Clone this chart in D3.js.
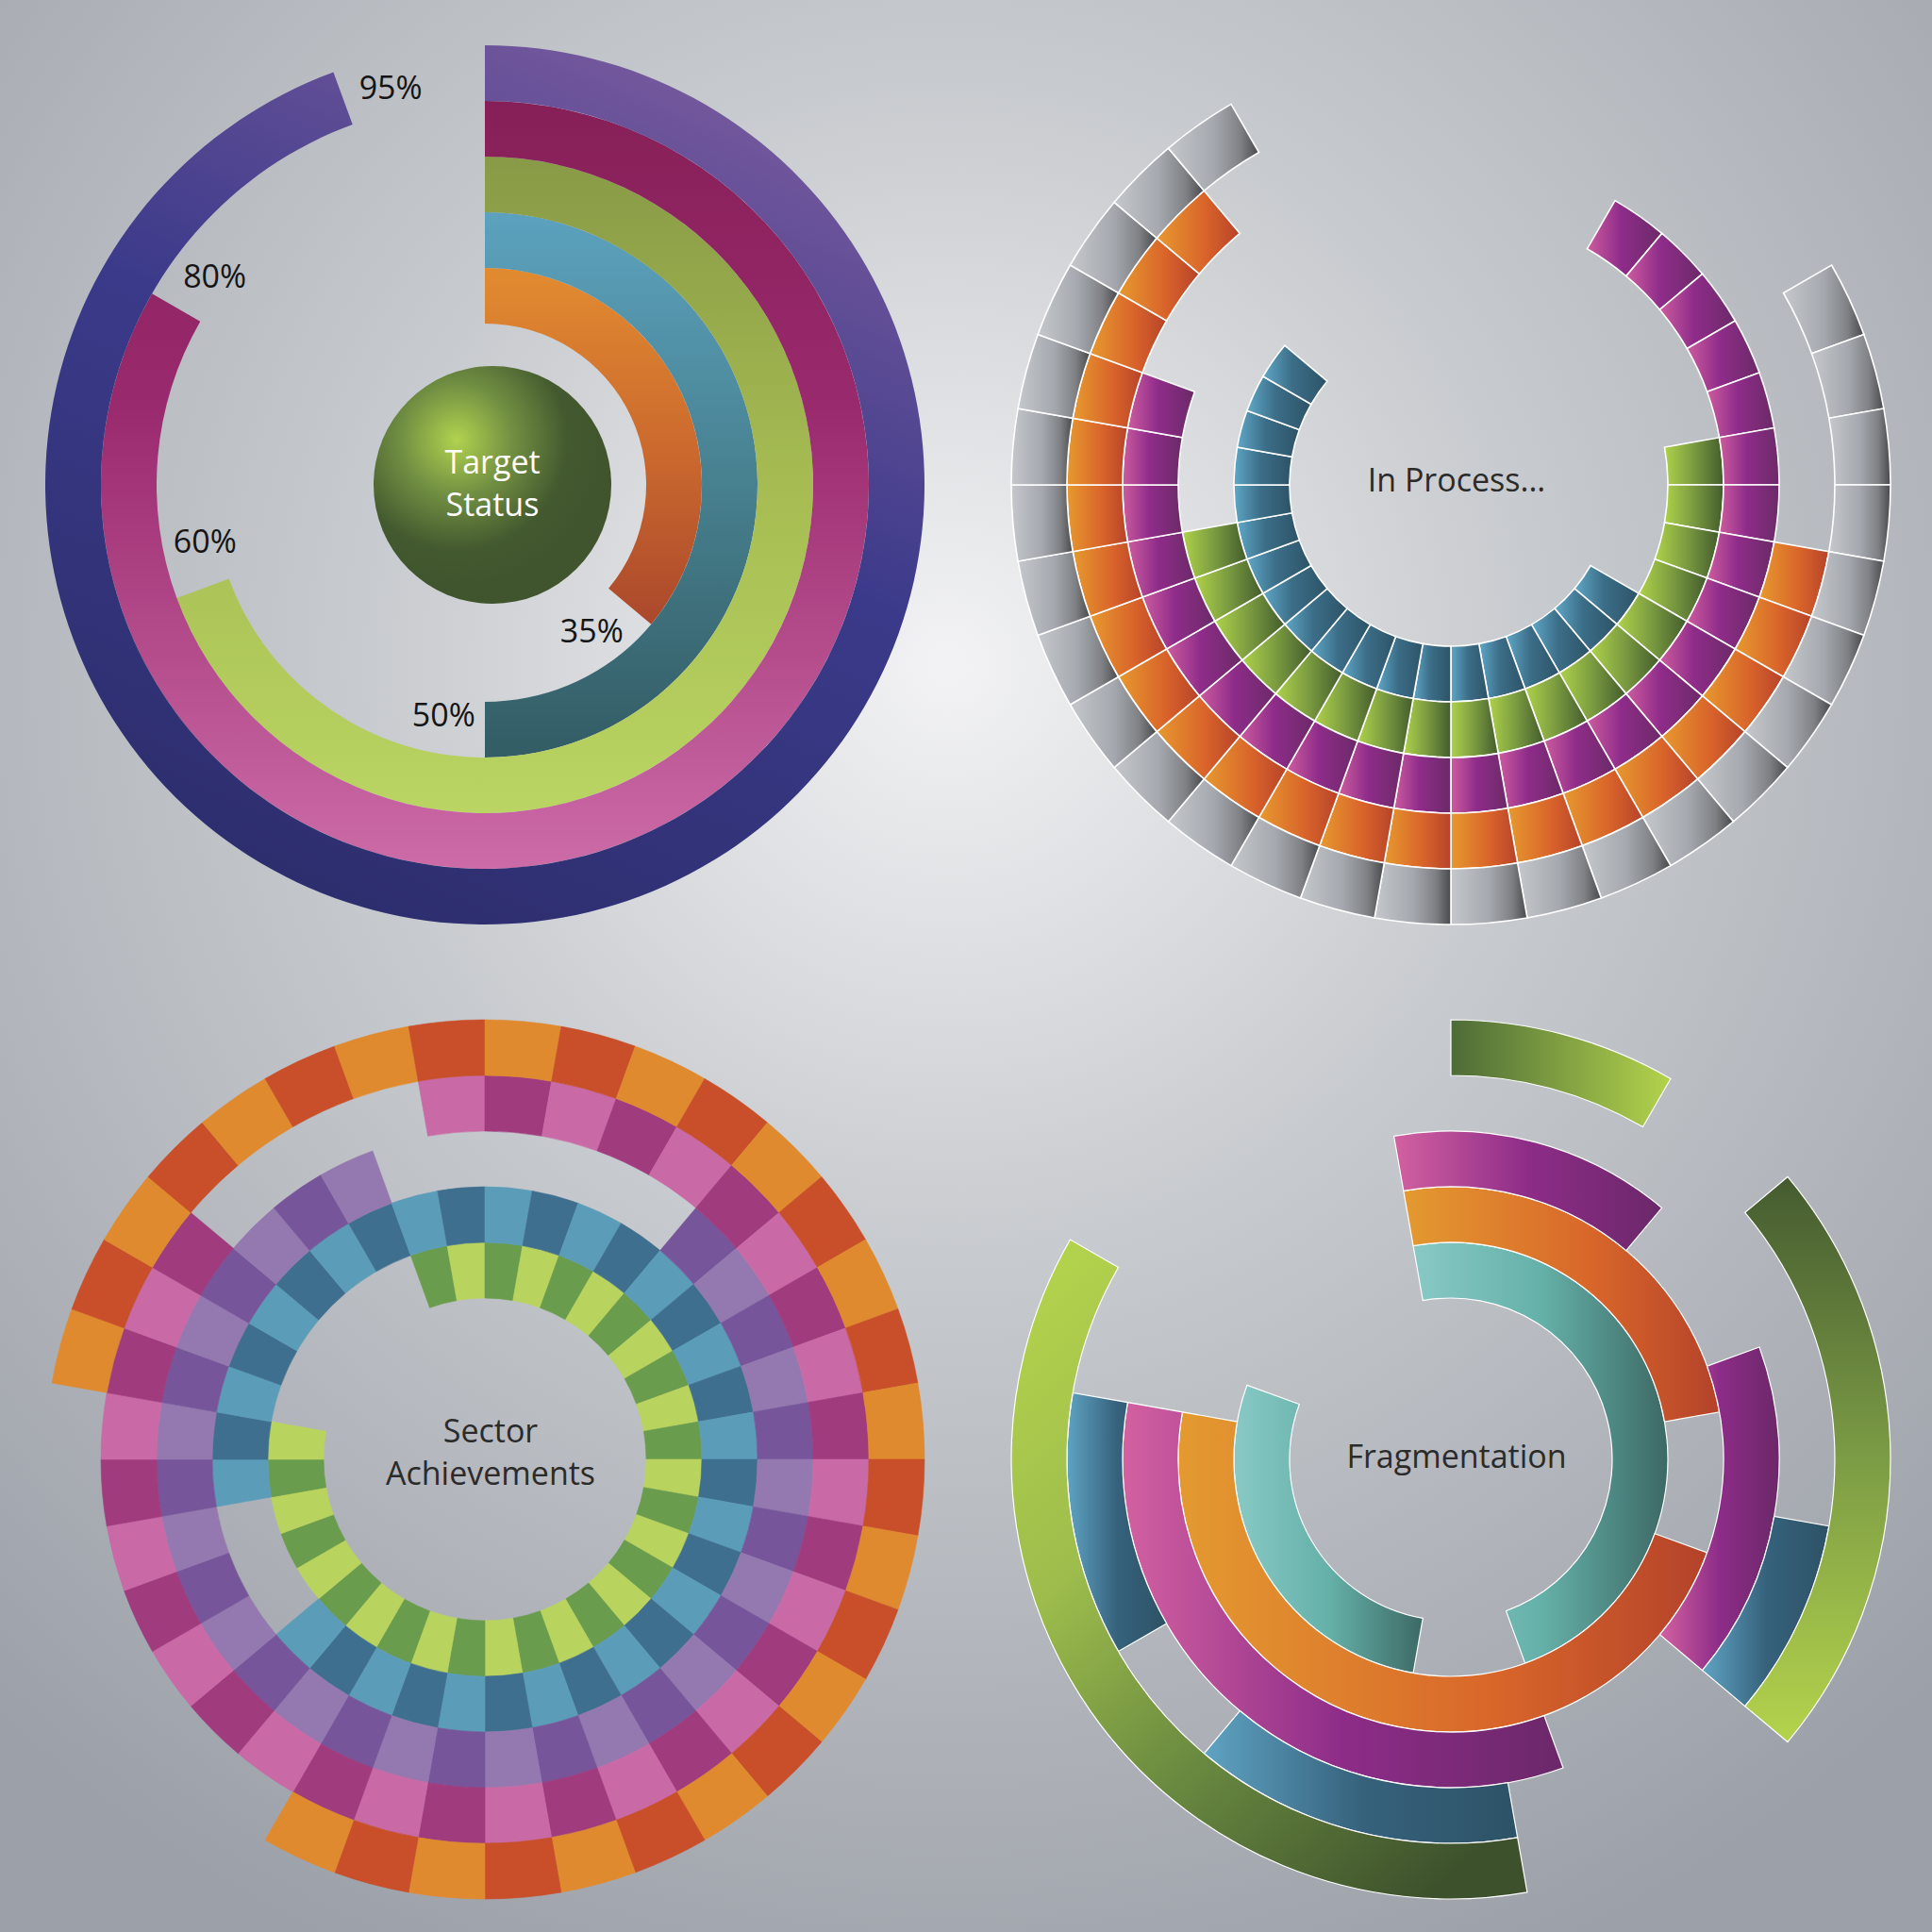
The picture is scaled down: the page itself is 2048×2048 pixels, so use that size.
<!DOCTYPE html>
<html><head><meta charset="utf-8">
<script src="https://cdn.jsdelivr.net/npm/d3@7"></script>
<style>html,body{margin:0;padding:0;background:#c8cbd0;} svg{display:block;}</style>
</head><body>
<script>
// ================= DATA =================
// Chart 1 — Target Status (rings inner → outer)
const targetLabels = ["35%", "50%", "60%", "80%", "95%"];
const targetSweep  = [36.1, 50, 69.4, 83.3, 94.4];   // share of the full circle drawn (%)
const targetKeys   = ["orange", "teal", "green", "magenta", "purple"];

// Chart 2 — In Process... (rings inner → outer, degrees clockwise from 12 o'clock, 10° cells)
const processKeys  = ["blue", "green", "magenta", "orange", "gray"];
const processStart = [120, 80, 30, 100, 60];
const processEnd   = [310, 260, 290, 320, 330];

// Chart 3 — Sector Achievements (rings inner → outer, >360 wraps past 12 o'clock)
const sectorKeys  = ["green", "blue", "purple", "pink", "orange"];
const sectorStart = [340, 260, 40, 350, 280];
const sectorEnd   = [640, 590, 340, 670, 570];

// Chart 4 — Fragmentation (arcs)
const fragRing  = [0, 0, 1, 1, 2, 2, 2, 3, 3, 3, 4, 4, 4];
const fragStart = [350, 190, 350, 110, 350, 70, 160, 100, 170, 240, 0, 50, 170];
const fragEnd   = [520, 290, 440, 280, 400, 130, 280, 130, 220, 280, 30, 130, 300];
const fragKeys  = ["teal", "teal", "orange", "orange", "magenta", "magenta", "magenta",
                   "blue", "blue", "blue", "greenH", "greenV", "greenD"];

const chartTitles = [["Target", "Status"], ["In Process..."], ["Sector", "Achievements"], ["Fragmentation"]];

// ================= STYLE =================
const FONT = "'Open Sans', 'Noto Sans', sans-serif";
const W = 2048, H = 2048;
const centers = [[514, 514], [1538, 514], [514, 1547], [1538, 1547]];

const svg = d3.select("body").append("svg").attr("width", W).attr("height", H);
const defs = svg.append("defs");

function linGrad(id, stops, x1, y1, x2, y2) {
  const g = defs.append("linearGradient").attr("id", id)
    .attr("x1", x1).attr("y1", y1).attr("x2", x2).attr("y2", y2);
  stops.forEach(([o, c]) => g.append("stop").attr("offset", o).attr("stop-color", c));
}
const H_ = [0, 0, 1, 0], V_ = [0, 0, 0, 1];

// background
const bg = defs.append("radialGradient").attr("id", "bg").attr("gradientUnits", "userSpaceOnUse")
  .attr("cx", 1005).attr("cy", 705).attr("r", 1500);
[[0, "#f3f3f5"], [0.12, "#e6e7e9"], [0.42, "#c7cace"], [1, "#9ca0a8"]]
  .forEach(([o, c]) => bg.append("stop").attr("offset", o).attr("stop-color", c));
svg.append("rect").attr("width", W).attr("height", H).attr("fill", "url(#bg)");

// chart 1 gradients
linGrad("c1-orange",  [[0, "#e18b30"], [0.5, "#cc6a2e"], [1, "#ab482c"]], ...V_);
linGrad("c1-teal",    [[0, "#5ca2be"], [0.5, "#47808f"], [1, "#335c64"]], ...V_);
linGrad("c1-green",   [[0, "#889a46"], [0.5, "#a6bc52"], [1, "#bad563"]], ...V_);
linGrad("c1-magenta", [[0, "#861f57"], [0.4, "#9a2a6e"], [1, "#cc6ba7"]], ...V_);
linGrad("c1-purple",  [[0, "#785a9e"], [0.45, "#3b3a8a"], [1, "#2c2d6c"]], 0.72, 0, 0.28, 1);

// chart 2 gradients (horizontal, per cell)
const c2Grad = {
  gray:    [[0, "#c4c7cb"], [0.5, "#a5a9af"], [0.8, "#7e8084"], [1, "#48494b"]],
  orange:  [[0, "#e7992f"], [0.6, "#d8622a"], [1, "#b6432a"]],
  magenta: [[0, "#cd5c9f"], [0.45, "#8f2c8a"], [1, "#6b2a67"]],
  green:   [[0, "#aed24a"], [0.5, "#7a9a40"], [1, "#435c2d"]],
  blue:    [[0, "#5fa7c7"], [0.45, "#3c6e88"], [1, "#2d5367"]]
};
Object.entries(c2Grad).forEach(([k, s]) => linGrad("c2-" + k, s, ...H_));

// chart 3 flat palettes [even cell, odd cell]
const c3Pal = {
  green:  ["#699c4c", "#b9d35f"],
  blue:   ["#5b9db9", "#3f6f8f"],
  purple: ["#77559a", "#9379b0"],
  pink:   ["#a03b7e", "#c96aa6"],
  orange: ["#e08a2f", "#c84f2a"]
};

// chart 4 gradients
linGrad("c4-teal",    [[0, "#89c9c5"], [0.5, "#65b1a9"], [1, "#3d6965"]], ...H_);
linGrad("c4-orange",  [[0, "#e49a30"], [0.6, "#d8662a"], [1, "#b4422a"]], ...H_);
linGrad("c4-magenta", [[0, "#d361a1"], [0.5, "#8d2c88"], [1, "#6b2869"]], ...H_);
linGrad("c4-blue",    [[0, "#5fa3c3"], [0.5, "#36627c"], [1, "#2d5266"]], ...H_);
linGrad("c4-greenH",  [[0, "#4d6b37"], [1, "#b3d34c"]], ...H_);
linGrad("c4-greenV",  [[0, "#455b30"], [0.5, "#7c9c45"], [1, "#b4d34c"]], ...V_);
linGrad("c4-greenD",  [[0, "#b4d34c"], [0.35, "#9dbc4c"], [0.65, "#6a8a40"], [1, "#3d512c"]], 0.1, 0, 0.8, 1);

// sphere
const sph = defs.append("radialGradient").attr("id", "sphere")
  .attr("cx", 0.35).attr("cy", 0.31).attr("r", 0.62).attr("fx", 0.35).attr("fy", 0.31);
[[0, "#b1d24f"], [0.38, "#718f42"], [0.75, "#43592f"], [1, "#40552d"]]
  .forEach(([o, c]) => sph.append("stop").attr("offset", o).attr("stop-color", c));

// ================= SCALES =================
const rScale = d3.scaleLinear().domain([0, 5]).range([171, 466]);      // ring index → radius
const degScale = d3.scaleLinear().domain([0, 360]).range([0, 2 * Math.PI]);
const pctScale = d3.scaleLinear().domain([0, 100]).range([0, 2 * Math.PI]);

const arcGen = d3.arc()
  .innerRadius(d => rScale(d.ring))
  .outerRadius(d => rScale(d.ring + 1))
  .startAngle(d => d.a0)
  .endAngle(d => d.a1);

function cells(ring, start, end) {
  const out = [];
  for (let a = start; a < end; a += 10) {
    out.push({ ring, a0: degScale(a), a1: degScale(Math.min(a + 10, end)), k: Math.round(a / 10) % 36 });
  }
  return out;
}

function title(g, lines, ys, color) {
  lines.forEach((t, i) => g.append("text").attr("x", 6).attr("y", ys[i])
    .attr("text-anchor", "middle").attr("font-family", FONT).attr("font-size", 34)
    .attr("fill", color).text(t));
}

// ================= CHART 1 =================
{
  const g = svg.append("g").attr("transform", `translate(${centers[0]})`);
  const data = targetSweep.map((v, i) => ({ ring: i, a0: 0, a1: pctScale(v), key: targetKeys[i], label: targetLabels[i] }));
  g.selectAll("path.ring").data(data).join("path").attr("class", "ring")
    .attr("d", arcGen).attr("fill", d => `url(#c1-${d.key})`);

  g.selectAll("text.lbl").data(data).join("text").attr("class", "lbl")
    .each(function (d) {
      const rl = (rScale(d.ring) + rScale(d.ring + 1)) / 2 - 12 + (d.ring === 4 ? 10 : 0);
      const a = d.a1 + 48 / rl;
      d3.select(this).attr("x", rl * Math.sin(a) + 4).attr("y", -rl * Math.cos(a) + 13);
    })
    .attr("text-anchor", "middle").attr("font-family", FONT).attr("font-size", 34)
    .attr("fill", "#151515").text(d => d.label);

  g.append("circle").attr("cx", 8).attr("cy", 0).attr("r", 126).attr("fill", "url(#sphere)");
  const tg = g.append("g").attr("transform", "translate(2,0)");
  title(tg, chartTitles[0], [-12, 33], "#ffffff");
}

// ================= CHART 2 =================
{
  const g = svg.append("g").attr("transform", `translate(${centers[1]})`);
  processKeys.forEach((key, i) => {
    g.append("g").selectAll("path").data(cells(i, processStart[i], processEnd[i])).join("path")
      .attr("d", arcGen).attr("fill", `url(#c2-${key})`)
      .attr("stroke", "#ffffff").attr("stroke-width", 1.6).attr("stroke-linejoin", "miter");
  });
  title(g, chartTitles[1], [7], "#2b2b2b");
}

// ================= CHART 3 =================
{
  const g = svg.append("g").attr("transform", `translate(${centers[2]})`);
  sectorKeys.forEach((key, i) => {
    g.append("g").selectAll("path").data(cells(i, sectorStart[i], sectorEnd[i])).join("path")
      .attr("d", arcGen).attr("fill", d => c3Pal[key][d.k % 2])
      .attr("stroke", d => c3Pal[key][d.k % 2]).attr("stroke-width", 0.6);
  });
  title(g, chartTitles[2], [-18, 27], "#2b2b2b");
}

// ================= CHART 4 =================
{
  const g = svg.append("g").attr("transform", `translate(${centers[3]})`);
  const data = fragRing.map((r, i) => ({ ring: r, a0: degScale(fragStart[i]), a1: degScale(fragEnd[i]), key: fragKeys[i] }));
  g.selectAll("path").data(data).join("path")
    .attr("d", arcGen).attr("fill", d => `url(#c4-${d.key})`)
    .attr("stroke", "#ffffff").attr("stroke-width", 1.2);
  title(g, chartTitles[3], [9], "#2b2b2b");
}
</script>
</body></html>
